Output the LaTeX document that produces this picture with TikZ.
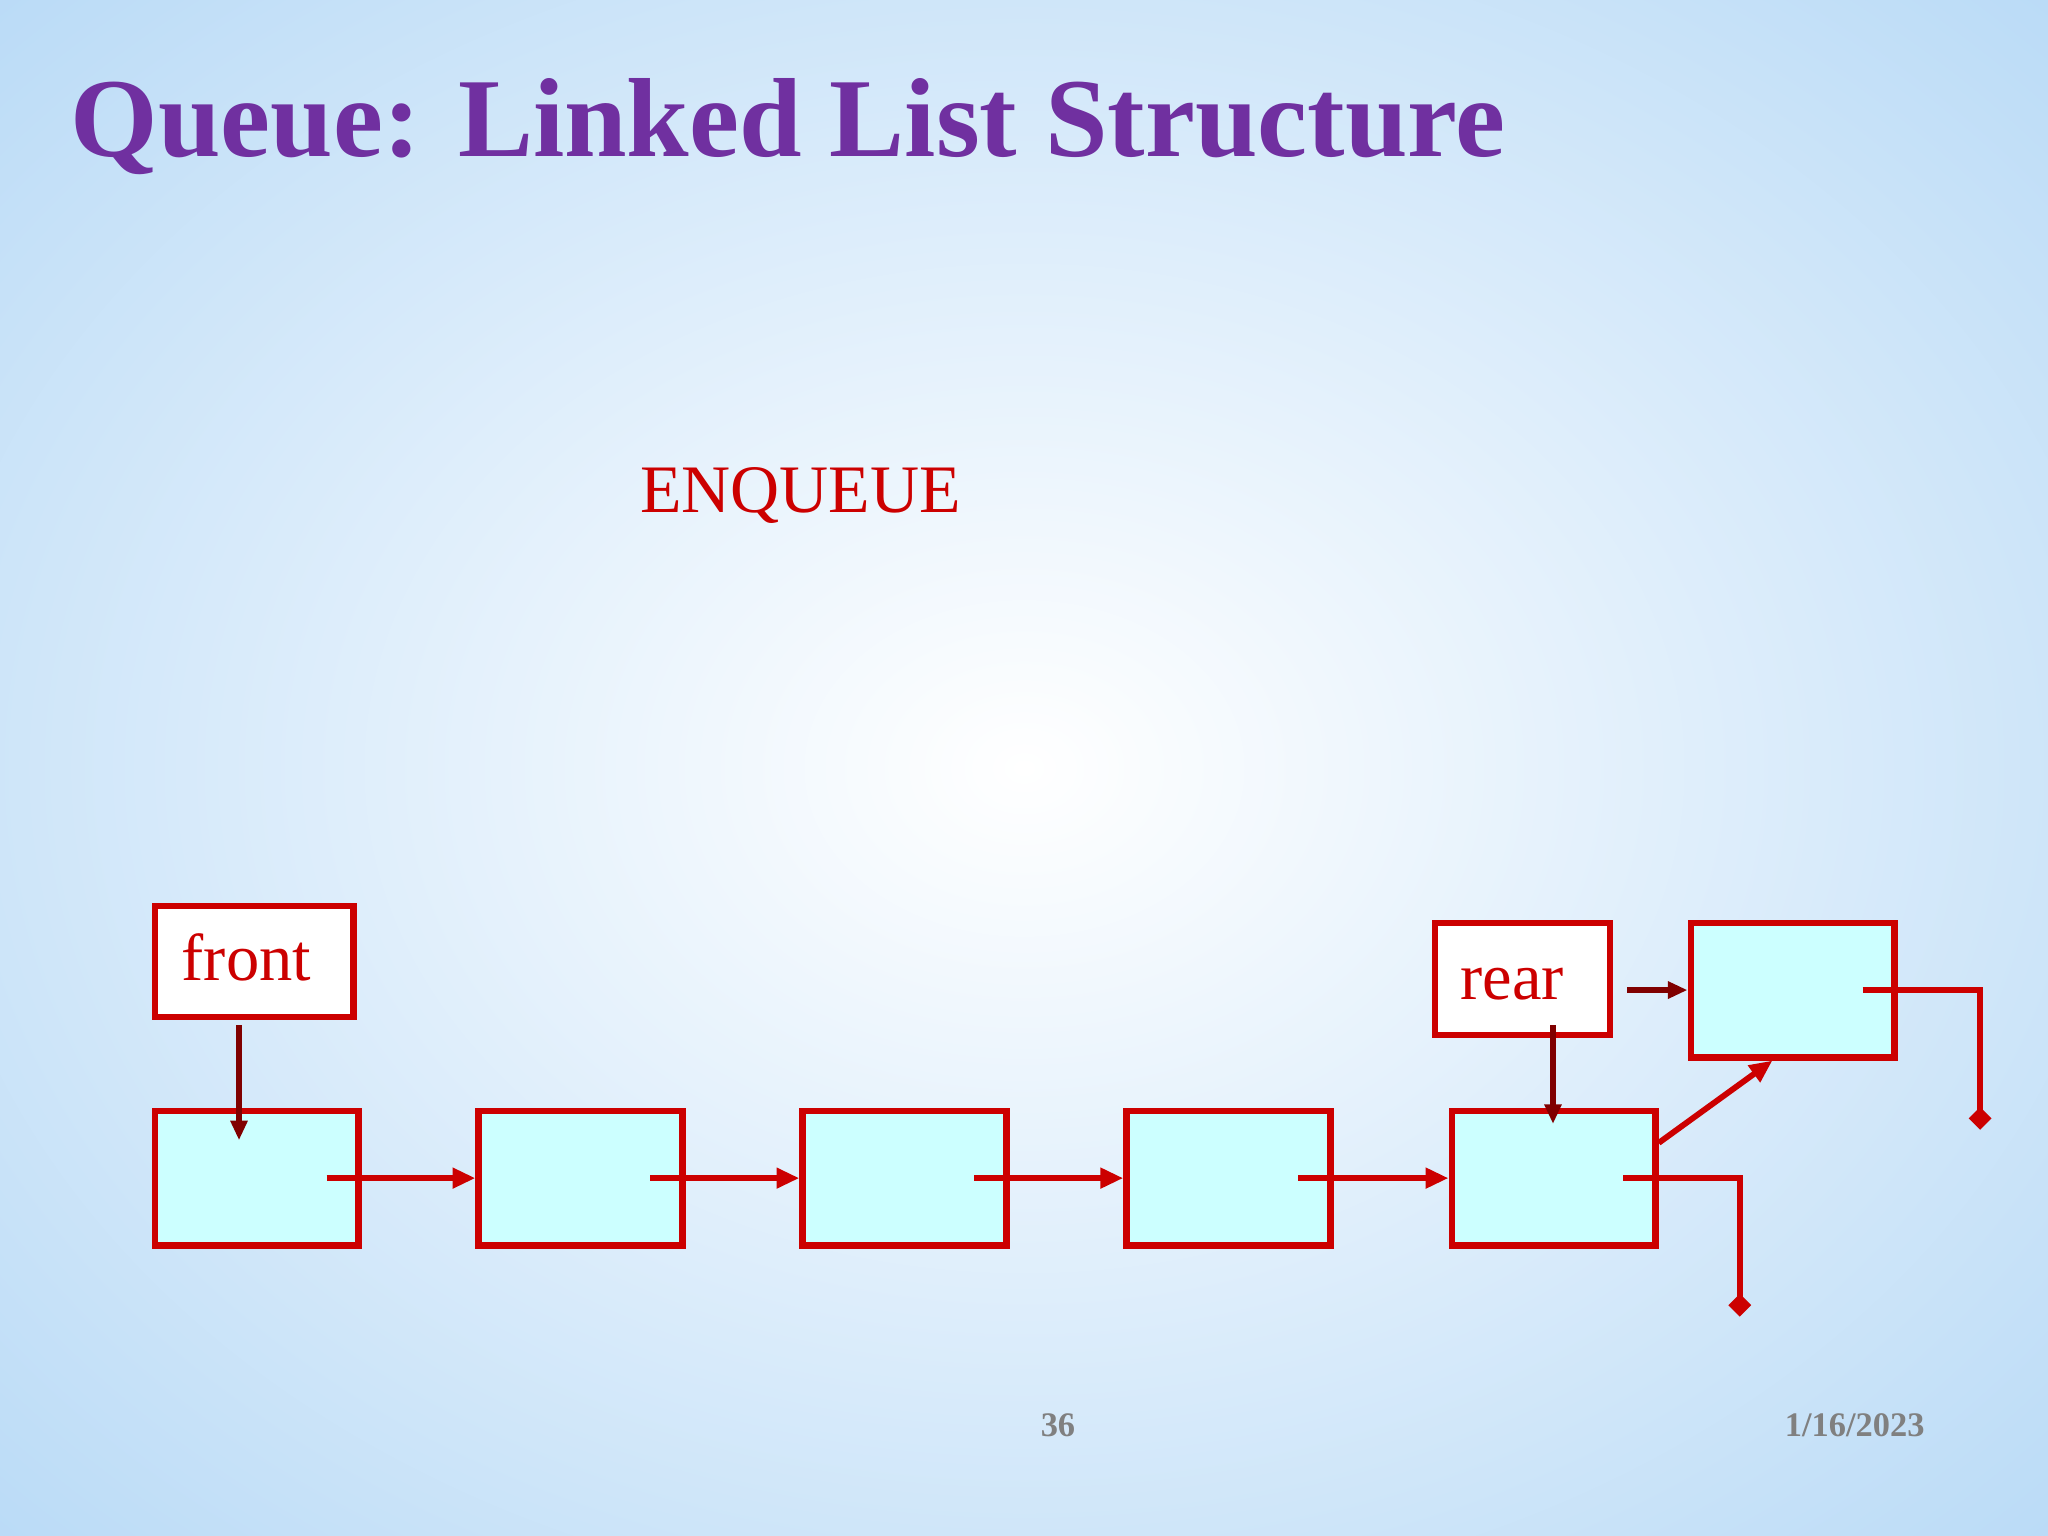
\documentclass[tikz,border=0pt]{standalone}
\usepackage{fontspec}
\setmainfont{Liberation Serif}
\usetikzlibrary{arrows.meta}
\definecolor{bgblue}{RGB}{150,200,242}
\definecolor{ttl}{RGB}{112,48,160}
\definecolor{bred}{RGB}{204,0,0}
\definecolor{dred}{RGB}{128,0,0}
\definecolor{cyanf}{RGB}{204,255,255}
\begin{document}
\begin{tikzpicture}[x=0.02cm,y=-0.02cm,
  nodebox/.style={draw=bred,line width=0.1cm,fill=cyanf,minimum width=3.12cm,minimum height=2.06cm,inner sep=0pt},
  ptrbox/.style={draw=bred,line width=0.1cm,fill=white,inner sep=0pt},
  link/.style={bred,line width=0.09cm,-{Triangle[length=0.35cm,width=0.3cm]}},
  ptr/.style={dred,line width=0.08cm,-{Triangle[length=0.3cm,width=0.25cm]}},
  nul/.style={bred,line width=0.09cm,-{Diamond[length=0.35cm,width=0.35cm]}}]
\useasboundingbox (0,0) rectangle (1568,1176);
\fill[bgblue] (0,0) rectangle (1568,1176);
\shade[inner color=white,outer color=bgblue] (-900,-700) rectangle (2468,1876);
\node[ttl,font=\fontsize{49}{58}\selectfont\bfseries,anchor=base west] (title) at (48,120) {Queue: Linked List Structure};
\node[bred,font=\fontsize{29.6}{36}\selectfont,anchor=base west] (enq) at (484,392) {ENQUEUE};
\node[nodebox,anchor=north west] (n1) at (116,848) {};
\node[nodebox,anchor=north west] (n2) at (364,848) {};
\node[nodebox,anchor=north west] (n3) at (612,848) {};
\node[nodebox,anchor=north west] (n4) at (860,848) {};
\node[nodebox,anchor=north west] (n5) at (1109,848) {};
\node[nodebox,anchor=north west] (n6) at (1292,704) {};
\node[ptrbox,anchor=north west,minimum width=3.04cm,minimum height=1.7cm] (front) at (116,691) {};
\node[bred,font=\fontsize{29}{36}\selectfont,anchor=base west] (ft) at (133,751) {front};
\node[ptrbox,anchor=north west,minimum width=2.68cm,minimum height=1.72cm] (rear) at (1096,704) {};
\node[bred,font=\fontsize{29}{36}\selectfont,anchor=base west] (rt) at (1112,765) {rear};
\foreach \a/\b in {n1/n2,n2/n3,n3/n4,n4/n5}
  \draw[link] ([xshift=-0.54cm]\a.east) -- (\b.west);
\draw[ptr] (183,785) coordinate (fa) -- ([yshift=-0.5cm]n1.north -| fa);
\draw[ptr] (1189,785) coordinate (ra) -- ([yshift=-0.25cm]n5.north -| ra);
\draw[ptr] ([xshift=0.22cm]rear.east |- 0,758) -- (n6.west |- 0,758);
\coordinate (d1) at (1332,1008);
\draw[nul] ([xshift=-0.54cm]n5.east) -| (d1);
\coordinate (d2) at (1516,865);
\draw[nul] ([xshift=-0.54cm]n6.east) -| (d2);
\draw[link] ([yshift=-0.54cm]n5.north east) -- (1357,812) coordinate (dg);
\node[gray,font=\fontsize{15}{18}\selectfont\bfseries] (pg) at (810,1091) {36};
\node[gray,font=\fontsize{15}{18}\selectfont\bfseries] (dt) at (1420,1091) {1/16/2023};
\end{tikzpicture}
\end{document}
